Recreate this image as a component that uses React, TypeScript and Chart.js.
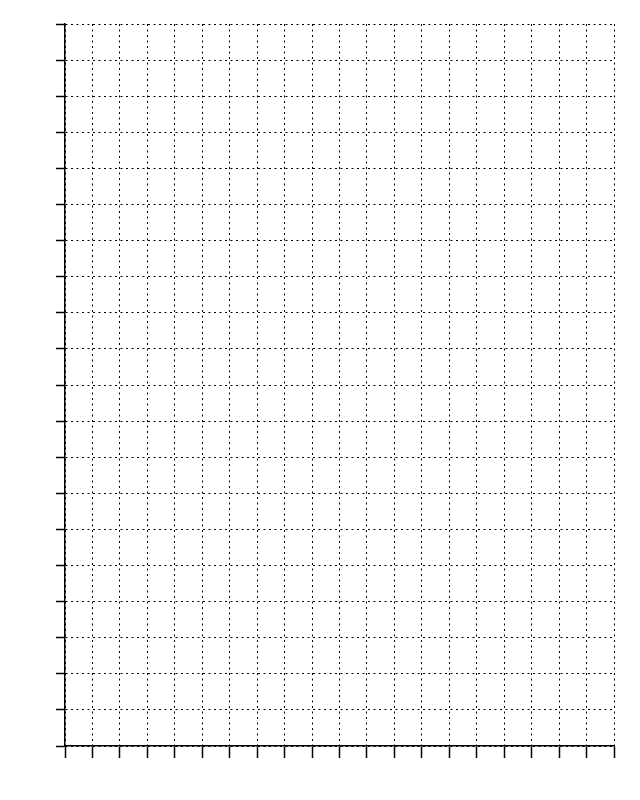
import { useEffect, useRef } from "react"
import { Chart, registerables } from "chart.js"

Chart.register(...registerables)

// tick positions on both axes (no labels shown in the reference)
const xTickValues = [0, 1, 2, 3, 4, 5, 6, 7, 8, 9, 10, 11, 12, 13, 14, 15, 16, 17, 18, 19, 20]
const yTickValues = [0, 1, 2, 3, 4, 5, 6, 7, 8, 9, 10, 11, 12, 13, 14, 15, 16, 17, 18, 19, 20]
// the reference plot holds no marks
const seriesPoints: { x: number; y: number }[] = []

export default function App() {
  const chartRef = useRef<HTMLCanvasElement>(null)
  const chartInstance = useRef<Chart | null>(null)

  useEffect(() => {
    if (!chartRef.current) return
    if (chartInstance.current) chartInstance.current.destroy()

    const ctx = chartRef.current.getContext("2d")
    if (!ctx) return

    chartInstance.current = new Chart(ctx, {
      type: "scatter",
      data: {
        datasets: [
          {
            data: seriesPoints,
            pointRadius: 0,
          },
        ],
      },
      options: {
        animation: false,
        responsive: true,
        maintainAspectRatio: false,
        layout: {
          padding: { left: 48, top: 16, right: 18, bottom: 34 },
        },
        plugins: {
          legend: { display: false },
          tooltip: { enabled: false },
        },
        scales: {
          x: {
            type: "linear",
            min: xTickValues[0],
            max: xTickValues[xTickValues.length - 1],
            afterBuildTicks: (axis) => {
              axis.ticks = xTickValues.map((v) => ({ value: v }))
            },
            ticks: { display: false },
            grid: {
              color: "#000",
              lineWidth: 1,
              tickLength: 12,
              tickColor: "#000",
              tickWidth: 1.5,
            },
            // border.dash styles the grid lines; the axis line itself stays solid
            border: { color: "#000", width: 1.5, dash: [2, 3.5] },
          },
          y: {
            type: "linear",
            min: yTickValues[0],
            max: yTickValues[yTickValues.length - 1],
            afterBuildTicks: (axis) => {
              axis.ticks = yTickValues.map((v) => ({ value: v }))
            },
            ticks: { display: false },
            grid: {
              color: "#000",
              lineWidth: 1,
              tickLength: 9,
              tickColor: "#000",
              tickWidth: 1.5,
            },
            border: { color: "#000", width: 1.5, dash: [2, 3.5] },
          },
        },
      },
    })

    return () => {
      if (chartInstance.current) {
        chartInstance.current.destroy()
        chartInstance.current = null
      }
    }
  }, [])

  return (
    <div style={{ width: 624, height: 784, position: "relative" }}>
      <canvas ref={chartRef} />
    </div>
  )
}
